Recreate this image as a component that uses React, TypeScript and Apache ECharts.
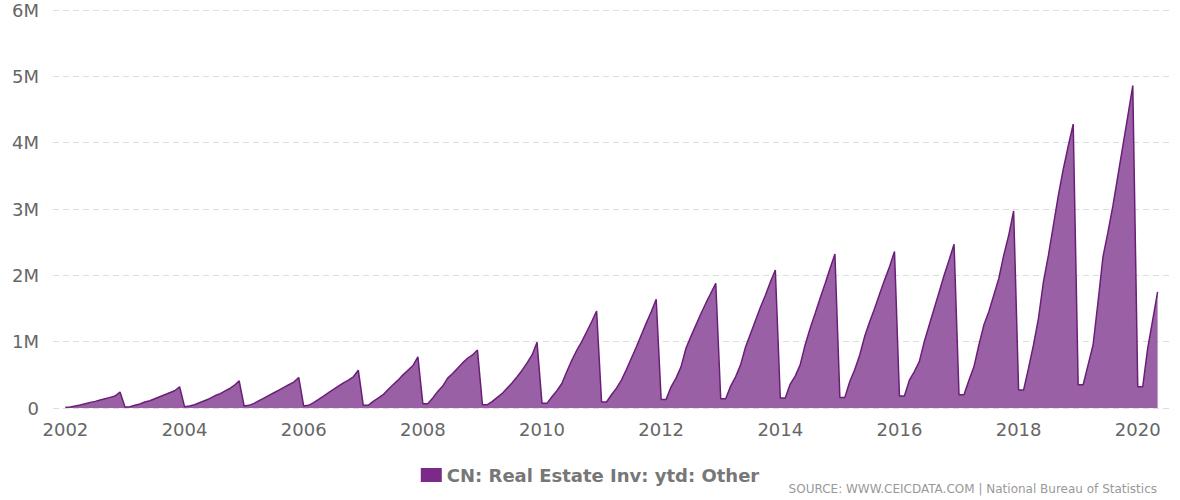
import React, { useEffect, useRef } from 'react';
import * as echarts from 'echarts';

// CN: Real Estate Inv: ytd: Other, monthly, values in RMB mn shown as millions (M)
const startYear = 2002;
const y2002 = [0.01, 0.015, 0.03, 0.045, 0.065, 0.085, 0.1, 0.12, 0.14, 0.16, 0.18, 0.24];
const y2003 = [0.015, 0.02, 0.04, 0.06, 0.09, 0.11, 0.14, 0.17, 0.2, 0.23, 0.26, 0.32];
const y2004 = [0.02, 0.03, 0.05, 0.08, 0.11, 0.14, 0.18, 0.21, 0.25, 0.29, 0.34, 0.41];
const y2005 = [0.03, 0.04, 0.07, 0.11, 0.15, 0.19, 0.23, 0.27, 0.31, 0.35, 0.39, 0.46];
const y2006 = [0.03, 0.04, 0.08, 0.13, 0.18, 0.23, 0.28, 0.33, 0.38, 0.42, 0.47, 0.57];
const y2007 = [0.04, 0.04, 0.1, 0.15, 0.2, 0.28, 0.35, 0.42, 0.5, 0.57, 0.64, 0.77];
const y2008 = [0.065, 0.065, 0.15, 0.25, 0.33, 0.45, 0.52, 0.6, 0.68, 0.75, 0.8, 0.875];
const y2009 = [0.05, 0.05, 0.1, 0.16, 0.22, 0.3, 0.38, 0.47, 0.57, 0.68, 0.8, 0.99];
const y2010 = [0.07, 0.07, 0.17, 0.26, 0.37, 0.55, 0.72, 0.87, 1.0, 1.15, 1.3, 1.46];
const y2011 = [0.09, 0.09, 0.2, 0.3, 0.42, 0.58, 0.75, 0.92, 1.1, 1.28, 1.45, 1.64];
const y2012 = [0.13, 0.13, 0.32, 0.45, 0.62, 0.9, 1.08, 1.25, 1.42, 1.58, 1.73, 1.88];
const y2013 = [0.14, 0.14, 0.33, 0.47, 0.65, 0.92, 1.12, 1.32, 1.52, 1.7, 1.9, 2.08];
const y2014 = [0.15, 0.15, 0.36, 0.48, 0.65, 0.95, 1.2, 1.42, 1.65, 1.87, 2.1, 2.32];
const y2015 = [0.16, 0.16, 0.4, 0.58, 0.8, 1.08, 1.3, 1.5, 1.72, 1.93, 2.13, 2.36];
const y2016 = [0.18, 0.18, 0.42, 0.55, 0.7, 1.0, 1.25, 1.5, 1.75, 2.0, 2.23, 2.47];
const y2017 = [0.2, 0.2, 0.42, 0.62, 0.95, 1.25, 1.45, 1.7, 1.95, 2.3, 2.6, 2.97];
const y2018 = [0.27, 0.27, 0.6, 0.95, 1.35, 1.9, 2.3, 2.75, 3.2, 3.6, 3.95, 4.28];
const y2019 = [0.35, 0.35, 0.65, 0.95, 1.6, 2.28, 2.65, 3.05, 3.5, 3.95, 4.4, 4.86];
const y2020 = [0.32, 0.32, 0.9, 1.32, 1.75];

const years = [
  y2002, y2003, y2004, y2005, y2006, y2007, y2008, y2009, y2010, y2011,
  y2012, y2013, y2014, y2015, y2016, y2017, y2018, y2019, y2020,
];

const yTicks = [0, 1, 2, 3, 4, 5, 6];
const seriesName = 'CN: Real Estate Inv: ytd: Other';
const sourceText = 'SOURCE: WWW.CEICDATA.COM | National Bureau of Statistics';

const App: React.FC = () => {
  const ref = useRef<HTMLDivElement | null>(null);

  useEffect(() => {
    if (!ref.current) return;
    const chart = echarts.init(ref.current, null, { renderer: 'svg' });

    // x is the year as a fraction: Jan = year + 0/12
    const points: [number, number][] = [];
    years.forEach((vals, yi) => {
      vals.forEach((v, m) => points.push([startYear + yi + m / 12, v]));
    });

    const font = 'DejaVu Sans, Verdana, sans-serif';

    chart.setOption({
      animation: false,
      grid: { left: 53, right: 8, top: 10, bottom: 92, containLabel: false },
      legend: {
        data: [seriesName],
        left: 'center',
        top: 461,
        icon: 'rect',
        itemWidth: 21,
        itemHeight: 14,
        itemGap: 5,
        textStyle: { color: '#777', fontSize: 18, fontWeight: 'bold', fontFamily: font },
      },
      xAxis: {
        type: 'value',
        min: startYear - 2.5 / 12,
        max: startYear + 222.9 / 12,
        splitNumber: 9,
        axisLine: { show: false },
        axisTick: { show: false },
        splitLine: { show: false },
        axisLabel: {
          color: '#666',
          fontSize: 18,
          fontFamily: font,
          margin: 12,
          formatter: (v: number) => (Math.abs(v - Math.round(v)) < 1e-6 ? String(Math.round(v)) : ''),
        },
      },
      yAxis: {
        type: 'value',
        min: yTicks[0],
        max: yTicks[yTicks.length - 1],
        interval: 1,
        axisLine: { show: false },
        axisTick: { show: false },
        splitLine: { lineStyle: { color: '#dcdcdc', type: [6, 4], width: 1 } },
        axisLabel: {
          color: '#666',
          fontSize: 18,
          fontFamily: font,
          margin: 14,
          formatter: (v: number) => (v === 0 ? '0' : v + 'M'),
        },
      },
      graphic: [
        {
          type: 'text',
          right: 23,
          top: 483,
          style: { text: sourceText, fill: '#999', fontSize: 12, fontFamily: font },
        },
      ],
      series: [
        {
          name: seriesName,
          type: 'line',
          data: points,
          showSymbol: false,
          symbol: 'none',
          lineStyle: { color: '#6a1f77', width: 1.5 },
          itemStyle: { color: '#7b2a8a' },
          areaStyle: { color: '#9a60a6', opacity: 1 },
        },
      ],
    });

    return () => {
      chart.dispose();
    };
  }, []);

  return (
    <div style={{ position: 'fixed', left: 0, top: 0, width: 1180, height: 500, background: '#fff' }}>
      <div ref={ref} style={{ width: 1180, height: 500 }} />
    </div>
  );
};

export default App;
